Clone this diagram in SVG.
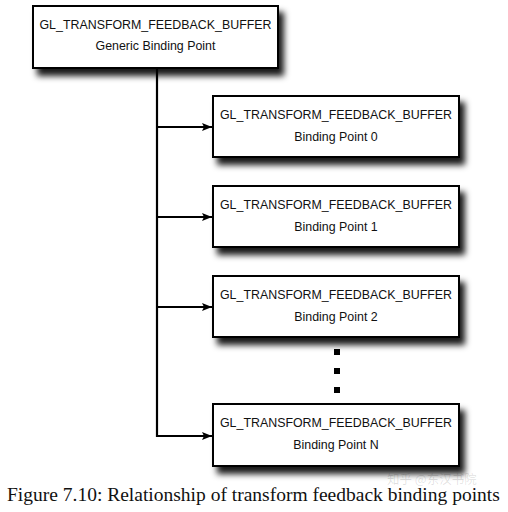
<svg xmlns="http://www.w3.org/2000/svg" width="508" height="512" viewBox="0 0 508 512">
<style>
.box{fill:#fff;stroke:#000;stroke-width:2;filter:url(#sh)}
.t{font-family:"Liberation Sans",Arial,sans-serif;font-size:12.4px;fill:#111;text-anchor:middle}
.c{fill:none;stroke:#000;stroke-width:2.2}
</style>
<defs>
<filter id="sh" x="-10%" y="-20%" width="130%" height="170%">
<feDropShadow dx="5" dy="7" stdDeviation="3.2" flood-color="#000" flood-opacity="0.9"/>
</filter>
<marker id="ah" viewBox="0 0 10 8" refX="10" refY="4" markerWidth="10" markerHeight="8" markerUnits="userSpaceOnUse" orient="auto">
<path d="M0,0 L10,4 L0,8 L2,4 Z" fill="#000"/>
</marker>
</defs>
<rect width="508" height="512" fill="#fff"/>
<g id="connectors">
<path class="c" d="M157,68 V436 H212" marker-end="url(#ah)"/>
<path class="c" d="M157,127 H212" marker-end="url(#ah)"/>
<path class="c" d="M157,217 H212" marker-end="url(#ah)"/>
<path class="c" d="M157,307 H212" marker-end="url(#ah)"/>
</g>
<g id="generic">
<rect class="box" x="33" y="6" width="245" height="62"/>
<text class="t" x="155.5" y="29">GL_TRANSFORM_FEEDBACK_BUFFER</text>
<text class="t" x="155.5" y="50">Generic Binding Point</text>
</g>
<g id="bp0">
<rect class="box" x="213" y="96" width="246" height="61"/>
<text class="t" x="336" y="119">GL_TRANSFORM_FEEDBACK_BUFFER</text>
<text class="t" x="336" y="141">Binding Point 0</text>
</g>
<g id="bp1">
<rect class="box" x="213" y="186" width="246" height="61"/>
<text class="t" x="336" y="209">GL_TRANSFORM_FEEDBACK_BUFFER</text>
<text class="t" x="336" y="231">Binding Point 1</text>
</g>
<g id="bp2">
<rect class="box" x="213" y="276" width="246" height="61"/>
<text class="t" x="336" y="299">GL_TRANSFORM_FEEDBACK_BUFFER</text>
<text class="t" x="336" y="321">Binding Point 2</text>
</g>
<g id="ellipsis" fill="#000">
<rect x="334" y="349" width="6" height="6"/>
<rect x="334" y="368" width="6" height="6"/>
<rect x="334" y="387" width="6" height="6"/>
</g>
<g id="bpN">
<rect class="box" x="213" y="404" width="246" height="62"/>
<text class="t" x="336" y="427">GL_TRANSFORM_FEEDBACK_BUFFER</text>
<text class="t" x="336" y="449">Binding Point N</text>
</g>
<text x="387" y="484" font-family="'Noto Sans CJK SC',sans-serif" font-size="12.5" fill="#000" fill-opacity="0.12">知乎 @东汉书院</text>
<text x="7" y="501" font-family="'Liberation Serif','Times New Roman',serif" font-size="19.5" fill="#111">Figure 7.10: Relationship of transform feedback binding points</text>
</svg>
